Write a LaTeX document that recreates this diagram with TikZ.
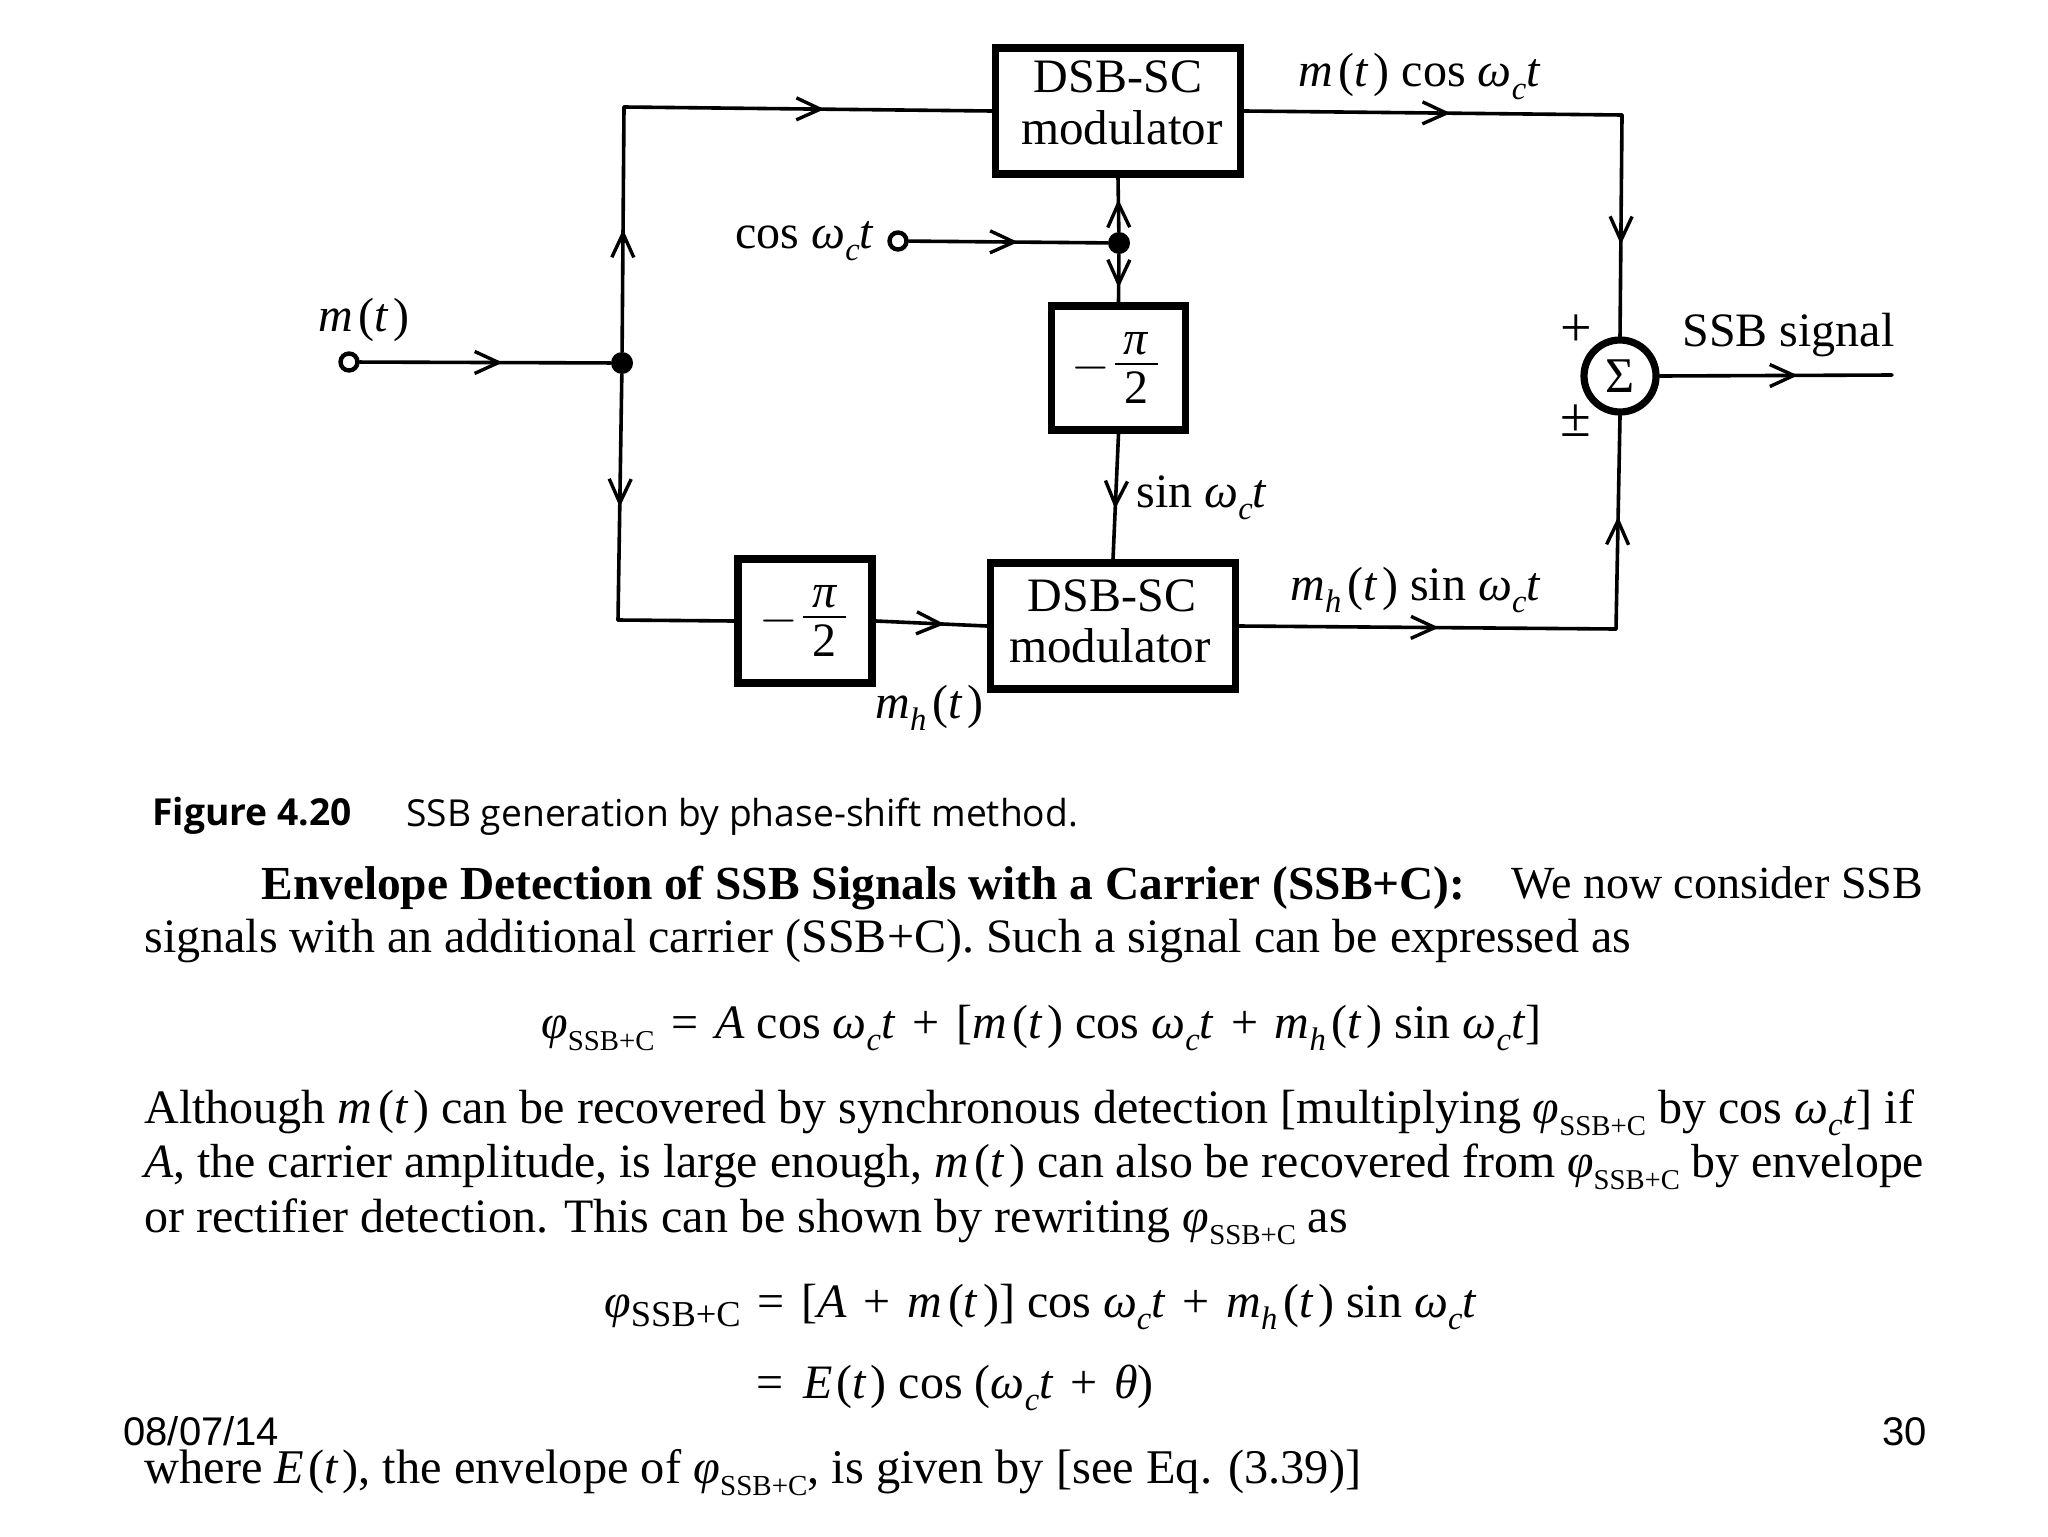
\documentclass[tikz,border=0pt]{standalone}
\usepackage{fontspec}
\setmainfont{Liberation Serif}
\newfontfamily\capfont{Open Sans}
\newfontfamily\slidefont{Liberation Sans}
\usetikzlibrary{arrows.meta,decorations.markings}
\newcommand{\I}[1]{\textit{#1}}
\newcommand{\sbs}[1]{\raisebox{-.26em}{\scalebox{.68}{#1}}}
\newcommand{\wc}{\I{ω}\sbs{\I{c}}\I{t}}
\newcommand{\mh}{\I{m}\sbs{\I{h}}\kern.12em(\I{t}\kern.1em)}
\newcommand{\mt}{\I{m}\kern.12em(\I{t}\kern.1em)}
\newcommand{\phis}{\I{φ}\raisebox{-.26em}{\scalebox{.6}{SSB+C}}}
\newcommand{\op}[1]{\kern.35em#1\kern.35em}
\newcommand{\halfpi}{$-\kern.1em\vcenter{\offinterlineskip\hbox to .9em{\hfil\I{π}\hfil}\kern4pt\hrule height .9pt\kern3.6pt\hbox to .9em{\hfil 2\hfil}}$}
\tikzset{
  wire/.style={line width=1.8pt,line cap=round,line join=round},
  flow/.style={postaction={decorate,decoration={markings,mark=at position #1 with {\arrow[line width=1.7pt]{Straight Barb[length=12pt,width=11pt]}}}}},
  block/.style={draw,line width=3.8pt,inner sep=0pt,font=\fontsize{24}{26}\selectfont,align=center},
  modbox/.style={block,minimum width=122.5pt,minimum height=63pt},
  shiftbox/.style={block,minimum width=67pt,minimum height=62pt},
  dot/.style={circle,fill=black,inner sep=0pt,minimum size=11pt},
  port/.style={circle,draw,fill=white,line width=2.2pt,inner sep=0pt,minimum size=8.5pt},
  lab/.style={anchor=base west,inner sep=0pt,font=\fontsize{24}{26}\selectfont},
  modlab/.style={anchor=base,inner sep=0pt,font=\fontsize{24.5}{26}\selectfont},
  body/.style={anchor=base west,inner sep=0pt,font=\fontsize{24}{27}\selectfont},
  captext/.style={anchor=base west,inner sep=0pt,font=\capfont\fontsize{18.6}{22}\selectfont},
  slide/.style={anchor=base west,inner sep=0pt,font=\slidefont\fontsize{20}{24}\selectfont}
}
\begin{document}
\begin{tikzpicture}[x=0.5pt,y=-0.5pt]
\useasboundingbox[fill=white] (0,0) rectangle (2048,1536);
% blocks
\node[modbox] (top) at (1118,111) {};
\node[lab,anchor=base] at (1118,92) {DSB-SC};
\node[modlab] at (1122,144) {modulator};
\node[modbox] (bot) at (1113,626) {};
\node[lab,anchor=base] at (1112,611) {DSB-SC};
\node[modlab] at (1110,662) {modulator};
\node[shiftbox] (mid) at (1118.5,368) {\halfpi\kern.17em};
\node[shiftbox] (lft) at (805,621) {\halfpi\kern.08em};
\node[circle,draw,line width=3.6pt,inner sep=0pt,minimum size=36pt,font=\fontsize{25}{26}\selectfont] (sum) at (1620,376) {Σ};
% junctions and ports
\node[port] (s1) at (349,362) {};
\node[dot] (j1) at (622,363) {};
\node[port] (s2) at (898,241) {};
\node[dot] (j2) at (1119,243) {};
\coordinate (c1) at (624,107);
\coordinate (c2) at (618,620);
\coordinate (c3) at (1622,115);
\coordinate (c4) at (1616,629);
\coordinate (out) at (1892,375);
% connectors
\draw[wire,flow=.57] (s1) -- (j1);
\draw[wire,flow=.5] (j1) -- (c1);
\draw[wire,flow=.545] (c1) -- (top.west);
\draw[wire,flow=.54] (j1) -- (c2);
\draw[wire] (c2) -- (lft.west);
\draw[wire,flow=.62] (lft.east) -- (bot.west);
\draw[wire,flow=.55] (s2) -- (j2);
\draw[wire,flow=.6] (j2) -- (top.south);
\draw[wire,flow=.7] (j2) -- (mid.north);
\draw[wire,flow=.6] (mid.south) -- (bot.north);
\draw[wire,flow=.546] (top.east) -- (c3);
\draw[wire,flow=.585] (c3) -- (sum.north);
\draw[wire,flow=.53] (bot.east) -- (c4);
\draw[wire,flow=.527] (c4) -- (sum.south);
\draw[wire,flow=.595] (sum.east) -- (out);
% diagram labels
\node[lab] at (318,331) {\mt};
\node[lab] at (735,248) {cos \wc};
\node[lab] at (1136,507) {sin \wc};
\node[lab] at (875,718) {\mh};
\node[lab] at (1298,87) {\mt{} cos \wc};
\node[lab] at (1290,600) {\mh{} sin \wc};
\node[lab] at (1682,346) {SSB signal};
\node[inner sep=0pt,font=\fontsize{28}{30}\selectfont] at (1576,331) {+};
\node[inner sep=0pt,font=\fontsize{28}{30}\selectfont] at (1576,421) {±};
% caption and body text
\node[captext,font=\capfont\bfseries\fontsize{18.6}{22}\selectfont] at (152,825) {Figure 4.20};
\node[captext] at (406,826) {SSB generation by phase-shift method.};
\node[body,font=\bfseries\fontsize{23.7}{27}\selectfont] at (261,899) {Envelope Detection of SSB Signals with a Carrier (SSB+C):};
\node[body,font=\fontsize{23}{27}\selectfont] at (1511,898) {We now consider SSB};
\node[body] at (144,952) {signals with an additional carrier (SSB+C). Such a signal can be expressed as};
\node[body] at (541,1038) {\phis\op{=}\I{A} cos \wc\op{+}[\mt{} cos \wc\op{+}\mh{} sin \wc]};
\node[body] at (144,1123) {Although \mt{} can be recovered by synchronous detection [multiplying \phis{} by cos \wc] if};
\node[body,font=\fontsize{23.9}{27}\selectfont] at (144,1177) {\I{A}, the carrier amplitude, is large enough, \mt{} can also be recovered from \phis{} by envelope};
\node[body] at (144,1232) {or rectifier detection. This can be shown by rewriting \phis{} as};
\node[body] at (604,1317) {\I{φ}\raisebox{-.2em}{\scalebox{.76}{SSB+C}}\op{=}[\I{A}\op{+}\mt] cos \wc\op{+}\mh{} sin \wc};
\node[body] at (756,1398) {=\kern.42em\I{E}\kern.08em(\I{t}\kern.08em) cos (\wc\op{+}\I{θ})};
\node[body,font=\fontsize{24.2}{27}\selectfont] at (144,1483) {where \I{E}\kern.08em(\I{t}\kern.08em), the envelope of \phis, is given by [see Eq. (3.39)]};
\node[slide] at (123,1445) {08/07/14};
\node[slide] at (1882,1445) {30};
\end{tikzpicture}
\end{document}
